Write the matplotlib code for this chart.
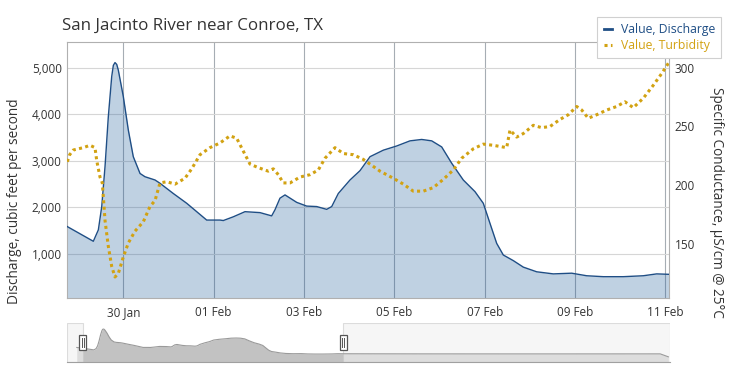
import matplotlib
matplotlib.use("Agg")
import matplotlib.pyplot as plt
import matplotlib.dates as mdates
from matplotlib.lines import Line2D
from matplotlib.patches import Rectangle
import pandas as pd

plt.rcParams['font.family'] = ['Open Sans', 'DejaVu Sans']

year = "2024-"

# discharge, cubic feet per second
q_times = ["01-28 18:14", "01-29 08:04", "01-29 10:44", "01-29 12:32", "01-29 14:17",
           "01-29 16:02", "01-29 17:50", "01-29 18:42", "01-29 19:35", "01-29 20:30",
           "01-29 21:20", "01-30 00:00",
           "01-30 02:40", "01-30 05:18", "01-30 08:53", "01-30 11:31", "01-30 16:51",
           "01-30 19:29", "01-31 02:34", "01-31 09:42", "01-31 15:00", "01-31 20:18",
           "02-01 03:23", "02-01 05:08", "02-01 10:26", "02-01 16:39", "02-02 00:37",
           "02-02 06:50", "02-02 08:35", "02-02 11:15", "02-02 13:55", "02-02 20:08",
           "02-03 01:26", "02-03 06:46", "02-03 12:04", "02-03 14:44", "02-03 18:14",
           "02-04 00:27", "02-04 05:46", "02-04 11:05", "02-04 18:09", "02-05 01:16",
           "02-05 08:20", "02-05 14:33", "02-05 19:52", "02-06 01:10", "02-06 06:29",
           "02-06 12:39", "02-06 18:52", "02-06 23:17", "02-07 02:50", "02-07 06:24",
           "02-07 09:55", "02-07 15:13", "02-07 20:33", "02-08 03:39", "02-08 12:29",
           "02-08 22:15", "02-09 06:13", "02-09 15:03", "02-10 01:40", "02-10 12:17",
           "02-10 19:24", "02-11 02:28"]
q_vals = [1590, 1275, 1520, 2020, 2880, 3950, 4810, 5050, 5110, 5070,
          4950, 4380,
          3660, 3090, 2730, 2660, 2590, 2520, 2300, 2090, 1910, 1730,
          1730, 1720, 1800, 1910, 1890, 1820, 1950, 2200, 2270, 2110,
          2030, 2020, 1960, 2020, 2300, 2590, 2790, 3090, 3230, 3320,
          3430, 3460, 3430, 3300, 2950, 2590, 2340, 2090, 1660, 1230,
          980, 860, 720, 620, 575, 590, 535, 515, 515, 535,
          575, 565]

# second series (right axis)
c_times = ["01-28 18:14", "01-28 19:30", "01-28 21:26", "01-29 02:44", "01-29 06:18",
           "01-29 08:57", "01-29 09:52", "01-29 11:37", "01-29 12:50", "01-29 14:17",
           "01-29 16:02", "01-29 17:50", "01-29 19:35", "01-29 21:20", "01-30 00:00",
           "01-30 02:40", "01-30 06:13", "01-30 10:38", "01-30 14:11", "01-30 16:51",
           "01-30 19:29", "01-30 23:04", "01-31 03:29", "01-31 08:47", "01-31 12:20",
           "01-31 16:45", "01-31 22:03", "02-01 03:23", "02-01 08:41", "02-01 12:15",
           "02-01 15:46", "02-01 19:19", "02-01 23:44", "02-02 05:02", "02-02 07:42",
           "02-02 10:22", "02-02 13:00", "02-02 16:35", "02-02 21:53", "02-03 03:12",
           "02-03 07:36", "02-03 11:10", "02-03 16:29", "02-03 20:54", "02-04 02:12",
           "02-04 07:31", "02-04 11:05", "02-04 16:24", "02-04 23:27", "02-05 04:46",
           "02-05 10:05", "02-05 15:24", "02-05 20:43", "02-06 02:01", "02-06 07:20",
           "02-06 11:48", "02-06 17:58", "02-06 23:17", "02-07 04:35", "02-07 11:43",
           "02-07 13:28", "02-07 17:01", "02-07 20:33", "02-08 01:51", "02-08 06:19",
           "02-08 10:44", "02-08 16:02", "02-08 20:27", "02-09 00:55", "02-09 03:35",
           "02-09 07:05", "02-09 11:33", "02-09 16:51", "02-09 22:09", "02-10 02:34",
           "02-10 06:59", "02-10 12:17", "02-10 17:35", "02-10 22:03", "02-11 02:07"]
c_vals = [220, 226, 230, 232, 234, 232, 221, 207, 202, 170,
          148, 131, 122, 125, 139, 151, 161, 169, 182, 187,
          202, 203, 201, 206, 214, 226, 232, 236, 242, 240,
          229, 218, 215, 212, 214, 209, 202, 202, 207, 209,
          213, 223, 232, 227, 226, 222, 218, 212, 206, 201,
          195, 195, 198, 205, 213, 223, 231, 235, 234, 232,
          247, 241, 244, 251, 249, 250, 256, 260, 267, 264,
          257, 260, 264, 267, 271, 266, 274, 285, 295, 305]

# navigator: discharge before and after the visible window
nav_before_times = ["01-28 11:00"]
nav_before_vals = [1720]
nav_after_times = ["02-12 12:00", "02-15 00:00", "02-19 00:00", "02-23 00:00",
                   "02-27 07:00", "02-27 17:00"]
nav_after_vals = [555, 545, 540, 540, 545, 0]

view_range = ["01-28 18:14", "02-11 02:07"]
nav_range = ["01-27 23:00", "02-27 19:00"]

to_dt = lambda lst: pd.to_datetime([year + s for s in lst])

blue = '#1f4e85'
gold = '#d2a212'
txt = '#333333'

fig = plt.figure(figsize=(7.37, 3.73), dpi=100)
ax = fig.add_axes([67.3 / 737, 1 - 297.7 / 373, 602 / 737, 256 / 373])

qt = to_dt(q_times)
ax.fill_between(qt, q_vals, -1000, color='#1a5a9a', alpha=0.28, lw=0, zorder=2)
ax.plot(qt, q_vals, color=blue, lw=1.0, zorder=3)
ax.set_ylim(64, 5558)
ax.set_yticks([1000, 2000, 3000, 4000, 5000])
ax.set_yticklabels(['1,000', '2,000', '3,000', '4,000', '5,000'])
v0, v1 = to_dt(view_range)
ax.set_xlim(v0, v1)
ax.xaxis.set_major_locator(mdates.DayLocator(bymonthday=[1, 3, 5, 7, 9, 11, 30]))
ax.xaxis.set_major_formatter(mdates.DateFormatter('%d %b'))
ax.grid(axis='x', color='#a6adb4', lw=0.8, zorder=1)
ax.grid(axis='y', color='#d6d6d6', lw=0.8, zorder=1)
ax.set_axisbelow(True)
ax.tick_params(axis='both', length=0, labelsize=8.5, colors=txt)
ax.tick_params(axis='x', pad=6)
ax.tick_params(axis='y', pad=4)
for s in ax.spines.values():
    s.set_color('#b0b0b0')
    s.set_linewidth(0.8)
ax.set_ylabel('Discharge, cubic feet per second', fontsize=9.8, color=txt)
ax.yaxis.set_label_coords(-0.075, 0.378)

ax2 = ax.twinx()
ax2.plot(to_dt(c_times), c_vals, color=gold, lw=2.2, linestyle=(0, (1, 1.1)), zorder=4)
ax2.set_ylim(104.4, 322.1)
ax2.set_yticks([150, 200, 250, 300])
ax2.tick_params(axis='y', length=0, labelsize=8.5, colors=txt, pad=4)
for s in ax2.spines.values():
    s.set_visible(False)
ax2.set_ylabel('Specific Conductance, μS/cm @ 25°C', fontsize=9.8, color=txt,
               rotation=270, va='center')
ax2.yaxis.set_label_coords(1.078, 0.374)

fig.text(62 / 737, 1 - 26 / 373, 'San Jacinto River near Conroe, TX',
         fontsize=12.2, color=txt, ha='left', va='center')

handles = [Line2D([], [], color=blue, lw=2),
           Line2D([], [], color=gold, lw=2.2, linestyle=(0, (1, 1.1)))]
leg = fig.legend(handles, ['Value, Discharge', 'Value, Turbidity'],
                 loc='upper right', bbox_to_anchor=(721 / 737, 1 - 17 / 373),
                 borderaxespad=0, fontsize=8.8, handlelength=0.7, handletextpad=0.7,
                 labelcolor=[blue, gold], fancybox=False, framealpha=1,
                 edgecolor='#d0d0d0', borderpad=0.5, labelspacing=0.25)
leg.get_frame().set_linewidth(0.8)

# navigator
nav = fig.add_axes([67 / 737, 1 - 362 / 373, 603 / 737, 39 / 373])
nt = to_dt(nav_before_times + q_times + nav_after_times)
nv = nav_before_vals + q_vals + nav_after_vals
nav.fill_between(nt, nv, -2000, color='#c2c2c2', lw=0)
nav.plot(nt, nv, color='#9a9a9a', lw=0.8)
n0, n1 = to_dt(nav_range)
nav.set_xlim(n0, n1)
nav.set_ylim(-950, 6220)
nav.set_xticks([])
nav.set_yticks([])
for k, s in nav.spines.items():
    s.set_visible(k == 'bottom')
nav.spines['bottom'].set_color('#a0a0a0')
nav.axvspan(n0, v0, facecolor='#f0f0f0', alpha=0.6, edgecolor='#c8c8c8', lw=0.8)
nav.axvspan(v1, n1, facecolor='#f0f0f0', alpha=0.6, edgecolor='#c8c8c8', lw=0.8)
tr = nav.get_xaxis_transform()
hw = pd.Timedelta(hours=4.2)
for hx in (v0, v1):
    nav.add_patch(Rectangle((mdates.date2num(hx - hw), 0.3), mdates.date2num(hx + hw) - mdates.date2num(hx - hw),
                            0.4, transform=tr, facecolor='white', edgecolor='#555555', lw=0.9, zorder=5))
    for dx in (-1.3, 1.3):
        xx = hx + pd.Timedelta(hours=dx)
        nav.plot([xx, xx], [0.38, 0.62], transform=tr, color='#555555', lw=0.7, zorder=6)

fig.savefig('out.png', dpi=100)
